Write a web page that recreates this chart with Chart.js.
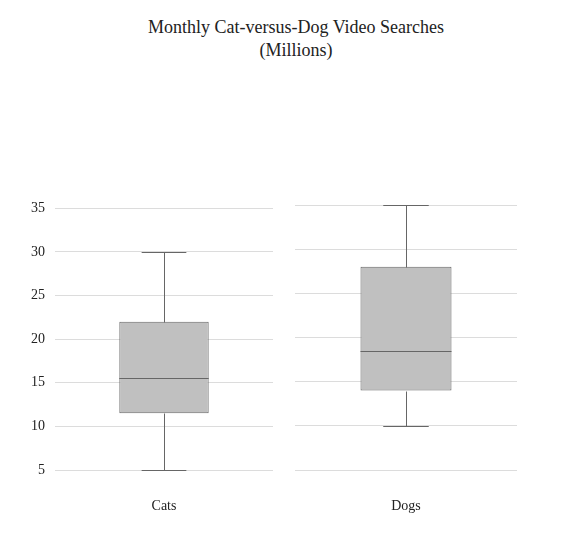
<!DOCTYPE html>
<html><head><meta charset="utf-8">
<script src="https://cdn.jsdelivr.net/npm/chart.js@4"></script>
<style>
body{margin:0;width:562px;height:533px;background:#fff;position:relative;font-family:"Liberation Serif",serif;}
#title{position:absolute;top:16px;left:0;width:592px;text-align:center;font-size:18px;line-height:23px;color:#222;}
canvas{position:absolute;}
</style></head><body>
<div id="title">Monthly Cat-versus-Dog Video Searches<br>(Millions)</div>
<canvas id="c1" width="273" height="330" style="left:0;top:190px"></canvas>
<canvas id="c2" width="222" height="330" style="left:295px;top:190px"></canvas>
<script>
const categories=["Cats","Dogs"];
const mins=[5,10];
const q1s=[11.5,14];
const medians=[15.5,18.5];
const q3s=[22,28];
const maxs=[30,35];
const yTicks=[5,10,15,20,25,30,35];

const boxPlugin={id:'box',afterDatasetsDraw(chart){
  const i=chart.options.plugins.box.idx;
  const ctx=chart.ctx, y=chart.scales.y, meta=chart.getDatasetMeta(0).data[0];
  const cx=meta.x, hw=meta.width/2;
  ctx.save();ctx.strokeStyle='#666';ctx.lineWidth=1;
  const line=(x1,y1,x2,y2)=>{ctx.beginPath();ctx.moveTo(x1,y1);ctx.lineTo(x2,y2);ctx.stroke();};
  const p=v=>Math.round(y.getPixelForValue(v))+0.5;
  const xc=Math.round(cx)+0.5;
  line(xc,p(q3s[i]),xc,p(maxs[i]));
  line(xc,p(q1s[i]),xc,p(mins[i]));
  line(cx-hw/2,p(maxs[i]),cx+hw/2,p(maxs[i]));
  line(cx-hw/2,p(mins[i]),cx+hw/2,p(mins[i]));
  line(cx-hw,p(medians[i]),cx+hw,p(medians[i]));
  ctx.restore();
}};
function make(id,i,showY){
  new Chart(document.getElementById(id),{type:'bar',
    data:{labels:[categories[i]],datasets:[{data:[[q1s[i],q3s[i]]],backgroundColor:'#c0c0c0',borderColor:'#666',borderWidth:1,borderSkipped:false,barPercentage:0.41,categoryPercentage:1}]},
    options:{responsive:false,animation:false,layout:{padding:{top:showY?5:15,right:0,left:0,bottom:0}},
      plugins:{legend:{display:false},tooltip:{enabled:false},box:{idx:i}},
      scales:{
        x:{grid:{display:false},border:{display:false},ticks:{padding:20,color:'#222',font:{family:'Liberation Serif',size:14}},afterFit(s){s.height=50;}},
        y:{min:5,max:35,afterBuildTicks(s){s.ticks=yTicks.map(v=>({value:v}));},
          grid:{color:'#dcdcdc',drawTicks:false},border:{display:false},
          ticks:{display:showY,padding:10,color:'#222',font:{family:'Liberation Serif',size:14}},
          afterFit(s){s.width=showY?55:0;}}
      }},plugins:[boxPlugin]});
}
make('c1',0,true);make('c2',1,false);
</script></body></html>
